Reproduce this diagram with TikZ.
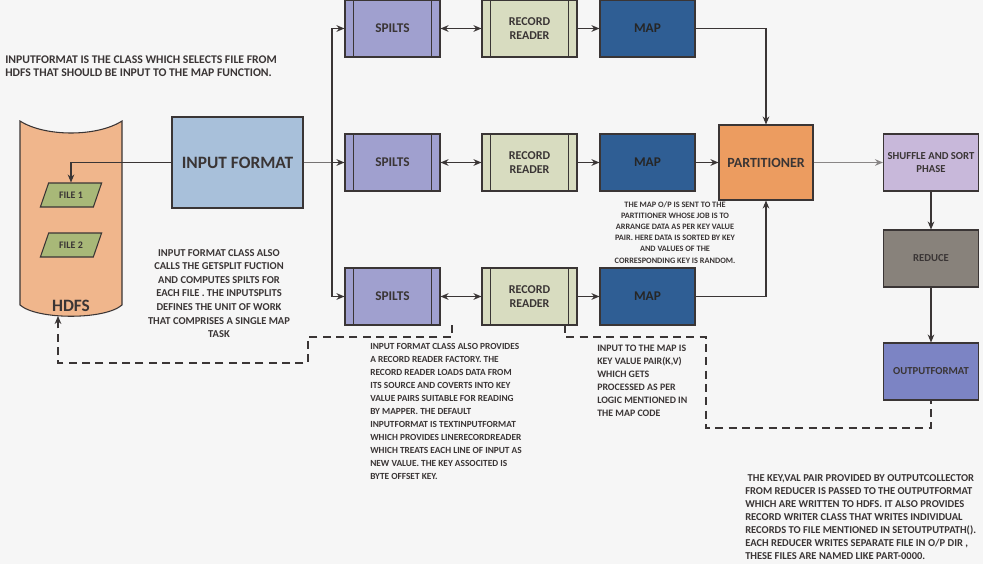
\documentclass[tikz,border=0pt]{standalone}
\usepackage{fontspec}
\setmainfont{Carlito}
\usetikzlibrary{shapes.geometric,arrows.meta}
\definecolor{bg}{HTML}{F6F6F6}
\definecolor{ln}{HTML}{3A3535}
\definecolor{cspl}{HTML}{A0A0CF}
\definecolor{crr}{HTML}{D8DCC0}
\definecolor{cmap}{HTML}{2F5E94}
\definecolor{cpart}{HTML}{EC9C60}
\definecolor{cin}{HTML}{A8C0DA}
\definecolor{chdfs}{HTML}{F0B68C}
\definecolor{cfile}{HTML}{A8B878}
\definecolor{cshuf}{HTML}{C8B8DA}
\definecolor{cred}{HTML}{88827B}
\definecolor{cout}{HTML}{7C84C4}
\tikzset{
 base/.style={draw=ln,line width=0.8pt,font=\bfseries\fontsize{10}{11.5}\selectfont,text=ln,align=center,inner sep=1pt},
 rowbox/.style={base,minimum width=71.25pt,minimum height=42.75pt},
 proc/.style={rowbox,path picture={\draw[ln,line width=0.7pt]
   ([xshift=6.5pt]path picture bounding box.north west)--([xshift=6.5pt]path picture bounding box.south west)
   ([xshift=-6.5pt]path picture bounding box.north east)--([xshift=-6.5pt]path picture bounding box.south east);}},
 splbox/.style={proc,fill=cspl},
 rrbox/.style={proc,fill=crr,font=\bfseries\fontsize{9}{11}\selectfont},
 mapbox/.style={rowbox,fill=cmap,text=black!85},
 filebox/.style={base,trapezium,trapezium left angle=62,trapezium right angle=118,trapezium stretches=true,minimum width=46pt,minimum height=18pt,fill=cfile,font=\bfseries\fontsize{7.5}{8}\selectfont},
 arr/.style={draw=ln,line width=0.8pt,-{Stealth[length=6pt,width=5pt]}},
 darr/.style={draw=ln,line width=0.8pt,{Stealth[length=6pt,width=5pt]}-{Stealth[length=6pt,width=5pt]}},
 dsh/.style={draw=ln,line width=0.8pt,dash pattern=on 6pt off 4pt},
 note/.style={font=\bfseries\fontsize{7}{9.75}\selectfont,text=ln,inner sep=0pt}
}
\begin{document}
\begin{tikzpicture}[x=0.75pt,y=-0.75pt]
\fill[bg] (0,0) rectangle (983,564);
\useasboundingbox (0,0) rectangle (983,564);
% HDFS cylinder
\draw[ln,line width=0.8pt,fill=chdfs] (20,121) .. controls (45,137) and (97,137) .. (122,121)
  -- (122,305) .. controls (105,320) and (37,320) .. (20,305) -- cycle;
\node[inner sep=0pt,minimum width=76.5pt,minimum height=148.5pt] (hdfs) at (71,216) {};
\node[base,draw=none,font=\bfseries\fontsize{13}{14}\selectfont,anchor=south] (hdfsl) at (71,313) {HDFS};
\node[filebox] (f1) at (71,195) {FILE 1};
\node[filebox] (f2) at (71,245) {FILE 2};
\node[base,fill=cin,minimum width=98.25pt,minimum height=68.25pt,font=\bfseries\fontsize{13}{14}\selectfont] (inf) at (237.5,162.5) {INPUT FORMAT};
% rows
\node[splbox] (s1) at (392.5,28.5) {SPILTS};
\node[rrbox] (r1) at (529.5,28.5) {RECORD\\READER};
\node[mapbox] (m1) at (647.5,28.5) {MAP};
\node[splbox] (s2) at (392.5,162.5) {SPILTS};
\node[rrbox] (r2) at (529.5,162.5) {RECORD\\READER};
\node[mapbox] (m2) at (647.5,162.5) {MAP};
\node[splbox] (s3) at (392.5,296.5) {SPILTS};
\node[rrbox] (r3) at (529.5,296.5) {RECORD\\READER};
\node[mapbox] (m3) at (647.5,296.5) {MAP};
\node[base,fill=cpart,minimum width=70.5pt,minimum height=56.25pt,font=\bfseries\fontsize{10.5}{12}\selectfont] (part) at (766,162.5) {PARTITIONER};
\node[rowbox,base,fill=cshuf,font=\bfseries\fontsize{8}{10}\selectfont] (shuf) at (931,162.5) {SHUFFLE AND SORT\\PHASE};
\node[rowbox,base,fill=cred,font=\bfseries\fontsize{8}{10}\selectfont] (red) at (931,258.5) {REDUCE};
\node[rowbox,base,fill=cout,font=\bfseries\fontsize{8}{10}\selectfont] (outf) at (931,371.5) {OUTPUTFORMAT};
% connectors
\coordinate (vx) at (332,162.5);
\draw[draw=ln!70,line width=0.8pt] (inf.east) -- (vx);
\draw[arr] (vx) -- (s2.west);
\draw[arr] (vx) |- (s1.west);
\draw[arr] (vx) |- (s3.west);
\draw[arr] (inf.west) -| (f1.north);
\draw[darr] (s1) -- (r1);
\draw[darr] (s2) -- (r2);
\draw[darr] (s3) -- (r3);
\draw[arr] (r1) -- (m1);
\draw[arr] (r2) -- (m2);
\draw[arr] (r3) -- (m3);
\draw[arr] (m1.east) -| (part.north);
\draw[arr] (m2) -- (part);
\draw[arr] (m3.east) -| (part.south);
\draw[arr,draw=ln!60] (part) -- (shuf);
\draw[arr] (shuf) -- (red);
\draw[arr] (red) -- (outf);
% dashed
\coordinate (d1) at (452,325);
\coordinate (d2) at (565,325);
\coordinate (hb) at (58,316);
\draw[dsh,-{Stealth[length=6pt,width=5pt]}] (d1) -- (452,337) -- (308,337) -- (308,363) -- (58,363) -- (hb);
\draw[dsh] (d2) -- (565,337) -- (706,337) -- (706,428) -- (931,428) -- (outf.south);
% notes
\node[note,align=left,anchor=north west,font=\bfseries\fontsize{8.8}{9.75}\selectfont] (t1) at (5,56) {INPUTFORMAT IS THE CLASS WHICH SELECTS FILE FROM\\HDFS THAT SHOULD BE INPUT TO THE MAP FUNCTION.};
\node[note,align=center,anchor=north,font=\bfseries\fontsize{7.9}{10.2}\selectfont] (t2) at (219,249) {INPUT FORMAT CLASS ALSO\\CALLS THE GETSPLIT FUCTION\\AND COMPUTES SPILTS FOR\\EACH FILE . THE INPUTSPLITS\\DEFINES THE UNIT OF WORK\\THAT COMPRISES A SINGLE MAP\\TASK};
\node[note,align=center,anchor=north,font=\bfseries\fontsize{6.2}{8.4}\selectfont] (t3) at (675,201) {THE MAP O/P IS SENT TO THE\\PARTITIONER WHOSE JOB IS TO\\ARRANGE DATA AS PER KEY VALUE\\PAIR. HERE DATA IS SORTED BY KEY\\AND VALUES OF THE\\CORRESPONDING KEY IS RANDOM.};
\node[note,align=left,anchor=north west] (t4) at (370,343) {INPUT FORMAT CLASS ALSO PROVIDES\\A RECORD READER FACTORY. THE\\RECORD READER LOADS DATA FROM\\ITS SOURCE AND COVERTS INTO KEY\\VALUE PAIRS SUITABLE FOR READING\\BY MAPPER. THE DEFAULT\\INPUTFORMAT IS TEXTINPUTFORMAT\\WHICH PROVIDES LINERECORDREADER\\WHICH TREATS EACH LINE OF INPUT AS\\NEW VALUE. THE KEY ASSOCITED IS\\BYTE OFFSET KEY.};
\node[note,align=left,anchor=north west,font=\bfseries\fontsize{7.4}{9.75}\selectfont] (t5) at (597,345) {INPUT TO THE MAP IS\\KEY VALUE PAIR(K,V)\\WHICH GETS\\PROCESSED AS PER\\LOGIC MENTIONED IN\\THE MAP CODE};
\node[note,align=left,anchor=north west,font=\bfseries\fontsize{7.9}{9.75}\selectfont] (t6) at (745,474) {\ THE KEY,VAL PAIR PROVIDED BY OUTPUTCOLLECTOR\\FROM REDUCER IS PASSED TO THE OUTPUTFORMAT\\WHICH ARE WRITTEN TO HDFS. IT ALSO PROVIDES\\RECORD WRITER CLASS THAT WRITES INDIVIDUAL\\RECORDS TO FILE MENTIONED IN SETOUTPUTPATH().\\EACH REDUCER WRITES SEPARATE FILE IN O/P DIR ,\\THESE FILES ARE NAMED LIKE PART-0000.};
\end{tikzpicture}
\end{document}
